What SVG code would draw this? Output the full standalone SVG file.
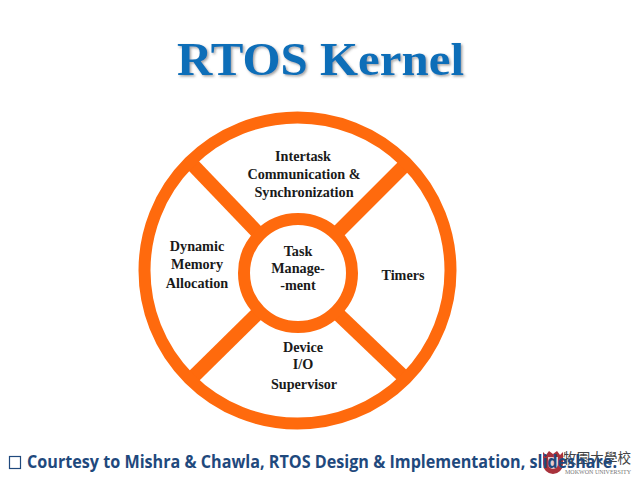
<svg xmlns="http://www.w3.org/2000/svg" width="638" height="479" viewBox="0 0 638 479">
<defs>
<filter id="soft" x="-5%" y="-20%" width="110%" height="140%"><feDropShadow dx="1.500" dy="1.500" stdDeviation="1.200" flood-color="#444" flood-opacity="0.5"/></filter>
</defs>
<style>
.ring{fill:none;stroke:#ff6a0d}
.spoke{stroke:#ff6a0d;stroke-width:14}
.l{font-family:"Liberation Serif",serif;font-weight:bold;font-size:14.2px;fill:#1a1a1a;text-anchor:middle}
.cap{font-family:"Open Sans","Liberation Sans",sans-serif;font-weight:bold;font-size:17.5px;fill:#1f497d}
</style>
<rect width="638" height="479" fill="#fff"/>
<text id="title" x="177" y="75" font-family="'Liberation Serif',serif" font-weight="bold" font-size="47" fill="#0e6eb8" filter="url(#soft)" textLength="287" lengthAdjust="spacingAndGlyphs">RTOS Kernel</text>
<g id="connectors">
<line class="spoke" x1="190" y1="162" x2="258" y2="233"/>
<line class="spoke" x1="407" y1="163" x2="337" y2="233"/>
<line class="spoke" x1="258" y1="313" x2="192" y2="378"/>
<line class="spoke" x1="337" y1="313" x2="405" y2="378"/>
</g>
<g id="outer-ring"><circle class="ring" cx="297.5" cy="270.5" r="153" stroke-width="12"/></g>
<g id="task-management">
<circle class="ring" cx="298" cy="273" r="54" stroke-width="12"/>
<text class="l"><tspan x="298" y="256">Task</tspan><tspan x="298" y="273">Manage-</tspan><tspan x="298" y="290">-ment</tspan></text>
</g>
<g id="intertask"><text class="l"><tspan x="303" y="161">Intertask</tspan><tspan x="304" y="179">Communication &amp;</tspan><tspan x="304" y="197">Synchronization</tspan></text></g>
<g id="dynamic-memory"><text class="l"><tspan x="197" y="251">Dynamic</tspan><tspan x="197" y="269">Memory</tspan><tspan x="197" y="288">Allocation</tspan></text></g>
<g id="timers"><text class="l" x="403" y="280">Timers</text></g>
<g id="device-io"><text class="l"><tspan x="303" y="352">Device</tspan><tspan x="303" y="369">I/O</tspan><tspan x="304" y="389">Supervisor</tspan></text></g>
<g id="logo">
<path d="M543 452l3 3 3-4 4 3 4-3 3 4 3-3v12a8.500 8.500 0 0 1-20 0z" fill="#a8323c"/>
<path d="M548 457h10v7a5 5 0 0 1-10 0z" fill="#fff" opacity=".75"/>
<text x="563" y="463" font-family="'Noto Sans CJK TC',sans-serif" font-size="13.500" fill="#444" textLength="68" lengthAdjust="spacing">牧園大學校</text>
<text x="565" y="474" font-family="'Liberation Serif',serif" font-size="6.500" fill="#777" textLength="66" lengthAdjust="spacingAndGlyphs">MOKWON UNIVERSITY</text>
</g>
<g id="caption">
<rect x="9.500" y="456.500" width="11" height="12" fill="none" stroke="#1f497d" stroke-width="1.200"/>
<text class="cap" x="27" y="468" textLength="590" lengthAdjust="spacingAndGlyphs">Courtesy to Mishra &amp; Chawla, RTOS Design &amp; Implementation, slideshare.</text>
</g>
</svg>
